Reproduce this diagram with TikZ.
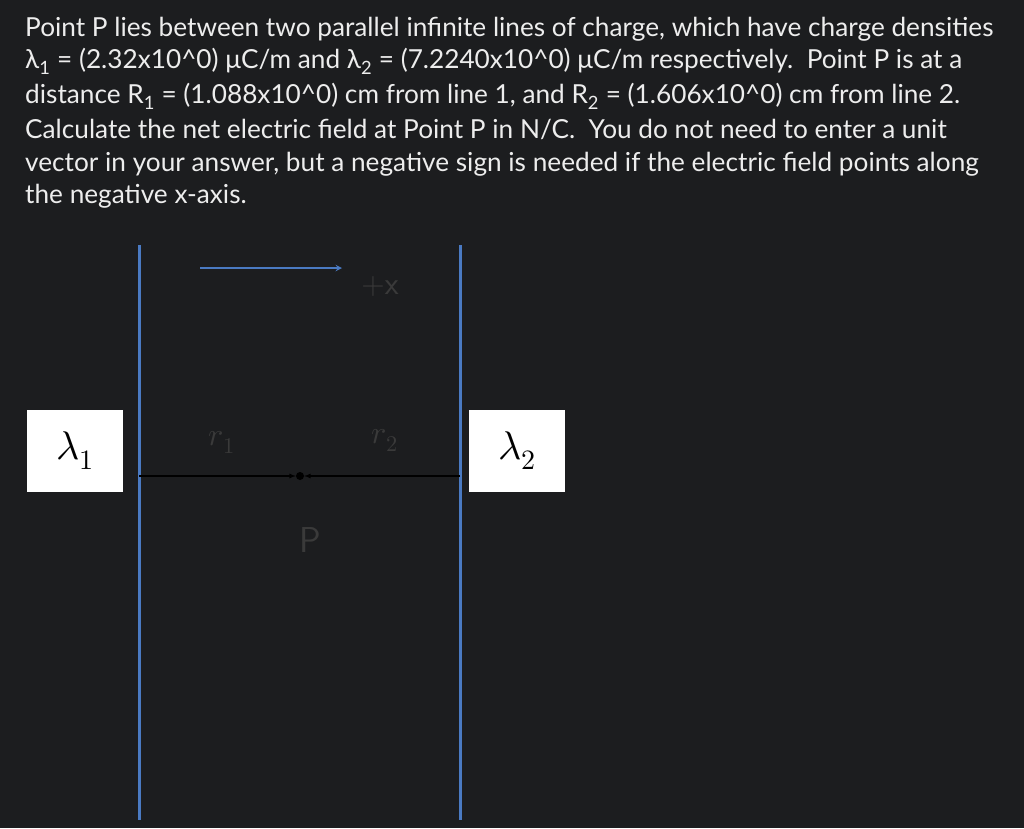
\documentclass[tikz,border=0pt]{standalone}
\usepackage{fontspec}
\setmainfont{Lato}
\usepackage{unicode-math}
\definecolor{bg}{HTML}{1C1D1F}
\definecolor{txt}{HTML}{EDEDED}
\definecolor{blu}{HTML}{4A7AC2}
\definecolor{dk}{HTML}{3A3A3A}
\begin{document}
\begin{tikzpicture}[x=1pt,y=-1pt,
  tl/.style={anchor=base west,inner sep=0,text=txt,font=\fontsize{26.2}{30}\selectfont},
  lam/.style={fill=white,minimum width=96pt,minimum height=82pt,inner sep=0,font=\fontsize{40}{46}\selectfont},
  chg/.style={blu,line width=3pt},
  lbl/.style={text=dk,inner sep=0}]
\fill[bg] (0,0) rectangle (1024,828);
\useasboundingbox (0,0) rectangle (1024,828);
\node[tl] (t1) at (25,36) {Point P lies between two parallel infinite lines of charge, which have charge densities};
\node[tl] (t2) at (25,68) {λ\textsubscript{1} = (2.32x10\^{}0) μC/m and λ\textsubscript{2} = (7.2240x10\^{}0) μC/m respectively.\ \ Point P is at a};
\node[tl] (t3) at (25,103) {distance R\textsubscript{1} = (1.088x10\^{}0) cm from line 1, and R\textsubscript{2} = (1.606x10\^{}0) cm from line 2.};
\node[tl] (t4) at (25,138) {Calculate the net electric field at Point P in N/C.\ \ You do not need to enter a unit};
\node[tl] (t5) at (25,171) {vector in your answer, but a negative sign is needed if the electric field points along};
\node[tl] (t6) at (25,203) {the negative x-axis.};
\coordinate (a1) at (139,245); \coordinate (a2) at (139,820);
\coordinate (b1) at (460,245); \coordinate (b2) at (460,820);
\draw[chg] (a1) -- (a2);
\draw[chg] (b1) -- (b2);
\coordinate (x0) at (200,268); \coordinate (x1) at (342,268);
\draw[blu,line width=1.8pt,-stealth] (x0) -- (x1);
\node[text=dk,font=\fontsize{32}{36}\sffamily\selectfont,inner sep=0] (px) at (380,287) {+x};
\node[lam] (l1) at (75,451) {$\lambda_1$};
\node[lam] (l2) at (517,451) {$\lambda_2$};
\coordinate (L) at (139,476); \coordinate (R) at (460,476);
\node[circle,fill=black,inner sep=0,minimum size=8pt] (P0) at (300,476) {};
\draw[black,line width=1.2pt,-latex] (L) -- (P0);
\draw[black,line width=1.2pt,-latex] (R) -- (P0);
\node[lbl,font=\fontsize{32}{36}\selectfont] (r1) at (222,442) {$r_1$};
\node[lbl,font=\fontsize{32}{36}\selectfont] (r2) at (385,440) {$r_2$};
\node[lbl,font=\fontsize{36}{40}\sffamily\selectfont] (P) at (310,540) {P};
\end{tikzpicture}
\end{document}
